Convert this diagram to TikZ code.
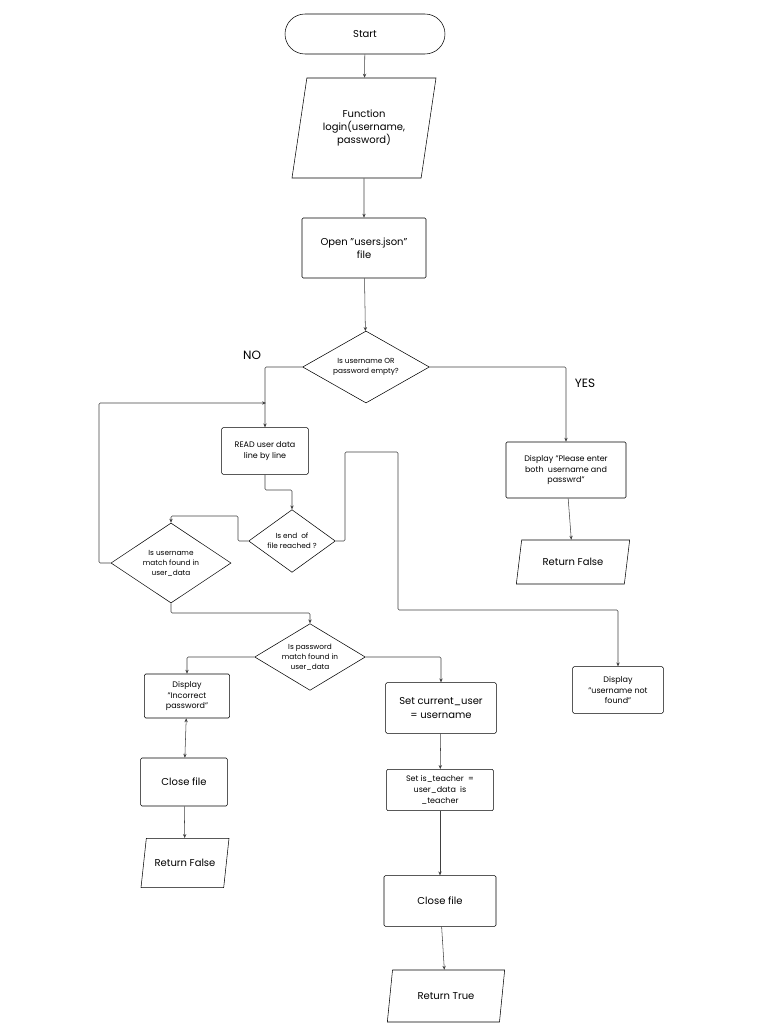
\documentclass[tikz,border=0pt]{standalone}
\usepackage{fontspec}
\setmainfont{Poppins}
\usetikzlibrary{shapes.geometric,arrows.meta}
\tikzset{
  box/.style={draw,rounded corners=1pt,align=center,font=\fontsize{6}{8}\selectfont},
  io/.style={draw,trapezium,trapezium left angle=72,trapezium right angle=108,trapezium stretches body,align=center,font=\fontsize{7.5}{10}\selectfont},
  dec/.style={draw,diamond,aspect=1.7,inner sep=0pt,align=center,font=\fontsize{5.5}{7.5}\selectfont},
  line/.style={draw=black!75,line width=0.4pt,rounded corners=1pt,-{Stealth[length=3pt,width=2.5pt]}}
}
\begin{document}
\begin{tikzpicture}[x=0.75pt,y=-0.75pt]
\useasboundingbox (0,0) rectangle (768,1024);
\node[draw,rounded corners=15pt,minimum width=120pt,minimum height=30pt,font=\fontsize{7.5}{10}\selectfont] (start) at (365,34) {Start};
\node[io,minimum width=108pt,minimum height=75pt] (func) at (364,128) {Function\\login(username,\\password)};
\node[box,minimum width=93pt,minimum height=45pt,font=\fontsize{7.5}{10}\selectfont] (open) at (364,248) {Open "users.json"\\file};
\node[dec,minimum width=95pt,minimum height=54pt] (empty) at (366,367) {Is username OR\\password empty?};
\node[font=\fontsize{9}{11}\selectfont] (no) at (252,355) {NO};
\node[font=\fontsize{9}{11}\selectfont] (yes) at (585,383) {YES};
\node[box,minimum width=90pt,minimum height=42pt] (please) at (566,470) {Display "Please enter\\both~ username and\\passwrd"};
\node[io,minimum width=85pt,minimum height=33pt] (falseR) at (573,562) {Return False};
\node[box,minimum width=65pt,minimum height=35pt] (read) at (265,451) {READ user data\\line by line};
\node[dec,minimum width=65pt,minimum height=47pt] (eof) at (292,541) {Is end~ of\\file reached ?};
\node[dec,minimum width=90pt,minimum height=60pt] (uname) at (171,563) {Is username\\match found in\\user\_data};
\node[dec,minimum width=83pt,minimum height=50pt] (pword) at (310,657) {Is password\\match found in\\user\_data};
\node[box,minimum width=68pt,minimum height=35pt] (notfound) at (618,690) {Display\\"username not\\found"};
\node[box,minimum width=64pt,minimum height=33pt] (wrong) at (187,696) {Display\\"Incorrect\\password"};
\node[box,minimum width=65pt,minimum height=36pt,font=\fontsize{7.5}{10}\selectfont] (closeL) at (184,782) {Close file};
\node[io,minimum width=66pt,minimum height=37pt] (falseL) at (185,863) {Return False};
\node[box,minimum width=83pt,minimum height=38pt,font=\fontsize{7.5}{10}\selectfont] (cur) at (441,708) {Set current\_user\\= username};
\node[box,minimum width=80pt,minimum height=31pt] (teach) at (440,790) {Set is\_teacher~ =\\user\_data~ is\\\_teacher};
\node[box,minimum width=84pt,minimum height=38pt,font=\fontsize{7.5}{10}\selectfont] (closeR) at (440,901) {Close file};
\node[io,minimum width=88pt,minimum height=39pt] (true) at (446,996) {Return True};
\coordinate (loop) at (266,403);
% main line
\draw[line] (start) -- (func);
\draw[line] (func) -- (open);
\draw[line] (open) -- (empty);
\draw[line] (empty.west) -| (read.north);
\draw[line] (empty.east) -| (please.north);
\draw[line] (please) -- (falseR);
% reading loop
\draw[line] (read.south) |- (292,490) -- (eof.north);
\draw[line] (eof.west) -- (238,541) |- (171,516) -- (uname.north);
\draw[line] (eof.east) -- (345,541) |- (398,452) |- (618,610) -- (notfound.north);
\draw[line] (uname.west) -- (99,563) |- (loop);
\draw[line] (uname.south) |- (310,613) -- (pword.north);
% password check
\draw[line] (pword.west) -| (wrong.north);
\draw[line] (pword.east) -| (cur.north);
\draw[line,{Stealth[length=3pt,width=2.5pt]}-{Stealth[length=3pt,width=2.5pt]}] (wrong) -- (closeL);
\draw[line] (closeL) -- (falseL);
\draw[line] (cur) -- (teach);
\draw[line] (teach) -- (closeR);
\draw[line] (closeR) -- (true);
\end{tikzpicture}
\end{document}
